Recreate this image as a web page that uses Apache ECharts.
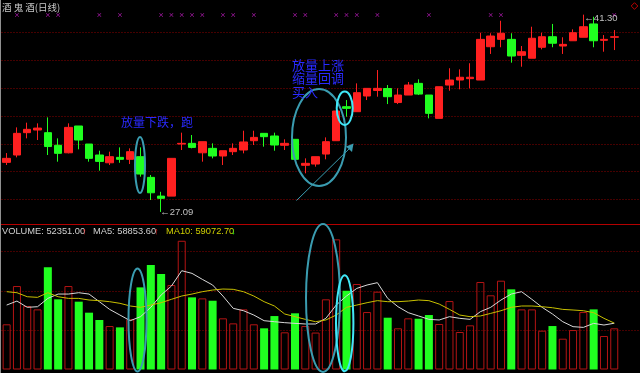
<!DOCTYPE html>
<html><head><meta charset="utf-8">
<script src="https://cdn.jsdelivr.net/npm/echarts@6/dist/echarts.min.js"></script>
<style>html,body{margin:0;padding:0;background:#000;}#c{width:640px;height:373px;}</style>
</head><body><div id="c"></div>
<script>
// ---- data ----
const days = [];
for (let i = 1; i <= 62; i++) days.push('D' + i);   // 60 trading days + 2 blank slots on the right
const opens  = [30.66,31.19,32.80,32.99,32.80,31.89,31.35,33.28,31.98,31.19,30.63,31.02,30.88,31.07,29.58,28.23,28.23,31.98,32.03,31.35,31.67,31.12,31.43,31.55,32.22,32.75,32.56,31.89,32.32,30.45,30.54,31.26,32.22,34.67,34.31,35.44,35.84,35.98,34.97,35.51,36.35,35.51,33.83,36.23,36.59,36.69,36.59,38.99,39.52,39.52,38.37,38.16,38.95,39.71,39.04,39.42,39.67,40.63,39.45,39.67];
const closes = [30.95,32.75,33.04,33.13,31.80,31.31,33.18,32.27,30.95,30.73,31.07,30.88,31.43,29.82,28.47,28.07,30.95,32.03,31.74,32.15,31.12,31.50,31.67,32.13,32.46,32.51,31.91,32.03,30.88,30.59,31.07,32.15,34.36,34.55,35.68,35.99,35.99,35.39,35.51,36.23,35.58,34.19,36.11,36.59,36.79,36.79,39.52,39.76,39.96,38.32,38.63,39.60,39.71,39.24,39.16,40.00,40.43,39.42,39.52,39.71];
const lows   = [30.47,31.02,32.39,32.27,31.19,30.71,31.31,31.60,30.71,30.06,30.47,30.63,30.54,29.63,27.95,27.09,28.23,31.55,31.67,30.71,30.95,30.47,31.19,31.31,31.91,31.79,31.50,31.55,30.88,29.87,30.35,30.88,32.22,33.95,34.31,35.15,35.39,34.86,34.86,35.51,35.51,33.83,33.83,35.82,35.92,35.99,36.59,38.47,38.95,37.84,37.55,38.16,38.80,38.95,38.47,39.42,39.67,38.95,38.63,38.75];
const highs  = [31.33,33.18,33.52,33.47,33.90,32.39,33.47,33.28,31.98,31.50,31.43,31.74,31.67,31.74,29.75,28.54,30.95,32.80,32.63,32.15,32.03,31.50,32.03,32.94,32.94,32.75,32.80,32.32,32.32,30.95,31.07,32.46,34.36,35.15,36.35,35.99,37.31,36.23,35.99,36.45,36.64,35.51,36.11,37.44,37.36,37.80,40.00,39.96,40.86,39.96,39.04,40.43,40.00,40.63,39.67,40.24,41.30,41.15,39.83,40.19];
const volumes = [57500,106200,80800,76500,130000,89300,106200,86300,72300,63000,55300,53600,64000,104500,132900,121500,107500,163800,91800,90500,87500,65100,58700,76500,57500,52400,68000,47300,71500,55300,47000,89300,165600,100200,108800,73100,99000,65900,52400,65100,64600,69300,57900,87100,47700,56200,111300,94400,113000,102000,76500,76500,49400,55300,39200,50200,73100,76500,42600,52351];
const ma5  = [82000,87100,79100,79900,90500,96000,96000,97700,96000,86300,76500,69300,62100,67200,79100,94800,106200,125700,122300,114700,107500,93500,77800,74800,69300,62100,60800,59600,58700,57900,57900,65100,82000,93500,103200,107500,110500,90500,79900,72300,68100,63800,63000,67200,65100,63800,73600,79100,88400,96000,99000,89300,79100,70600,60800,54500,53600,58700,56600,58853.6];
const ma10 = [99000,97700,92600,91800,97700,92600,90500,90500,88400,87600,86300,84200,80800,79100,82000,85000,89300,93500,96000,99000,101100,102400,102000,99000,93500,86300,80800,70600,67200,63800,60800,63000,69300,79100,82000,85000,87600,86300,86300,87100,88400,87600,83300,76500,69300,67200,68100,71400,74800,79100,80800,80800,79900,78600,76500,75700,74800,72300,65100,59072.7];
const signalDays = [1,4,5,9,11,15,16,17,18,19,21,22,24,28,29,32,33,34,36,41,47,48,59];
const signalLevel = 41.28;
const priceTicks = {min: 26, max: 42, step: 2};
const volTicks = {min: 0, max: 184500, step: 50000};
const lastVol = '52351.00', lastMA5 = '58853.60', lastMA10 = '59072.70';

// ---- build ----
const UP = '#ff2020', DOWN = '#20ff20', VOLUP = '#b41414';
const kData = opens.map((o, i) => [o, closes[i], lows[i], highs[i]]);
const volData = volumes.map((v, i) => {
  const up = closes[i] >= opens[i];
  return {value: v, itemStyle: up ? {color: 'rgba(0,0,0,0)', borderColor: VOLUP, borderWidth: 1} : {color: DOWN, borderWidth: 0}};
});
const grid0 = {left: 1.5, right: 0, top: 4.93, height: 222.14};
const grid1 = {left: 1.5, right: 0, top: 224.5, height: 145};
const split = {show: true, showMinLine: false, showMaxLine: false, lineStyle: {color: '#8c0000', type: [1, 2], width: 1}};
const hidden = {axisLine: {show: false}, axisTick: {show: false}, axisLabel: {show: false}};

const chart = echarts.init(document.getElementById('c'), null, {renderer: 'canvas'});
chart.setOption({
  backgroundColor: '#000',
  animation: false,
  grid: [grid0, grid1],
  xAxis: [
    Object.assign({type: 'category', data: days, gridIndex: 0, boundaryGap: true, splitLine: {show: false}}, hidden),
    Object.assign({type: 'category', data: days, gridIndex: 1, boundaryGap: true, splitLine: {show: false}}, hidden)
  ],
  yAxis: [
    Object.assign({type: 'value', gridIndex: 0, min: priceTicks.min, max: priceTicks.max, interval: priceTicks.step, splitLine: split}, hidden),
    Object.assign({type: 'value', gridIndex: 1, min: volTicks.min, max: volTicks.max, interval: volTicks.step, splitLine: split}, hidden)
  ],
  series: [
    {type: 'candlestick', xAxisIndex: 0, yAxisIndex: 0, data: kData, barWidth: 8,
     itemStyle: {color: UP, color0: DOWN, borderColor: UP, borderColor0: DOWN, borderWidth: 1}},
    {type: 'scatter', xAxisIndex: 0, yAxisIndex: 0, data: signalDays.map(d => [d, signalLevel]),
     symbol: 'path://M0,1L1,0L5,4L9,0L10,1L6,5L10,9L9,10L5,6L1,10L0,9L4,5Z', symbolSize: 4,
     itemStyle: {color: '#e020e0'}},
    {type: 'bar', xAxisIndex: 1, yAxisIndex: 1, data: volData, barWidth: 8},
    {type: 'line', xAxisIndex: 1, yAxisIndex: 1, data: ma5, showSymbol: false, symbol: 'none',
     lineStyle: {color: '#d8d8d8', width: 1}},
    {type: 'line', xAxisIndex: 1, yAxisIndex: 1, data: ma10, showSymbol: false, symbol: 'none',
     lineStyle: {color: '#c8c000', width: 1}}
  ]
});

// label positions from the data
let lowIdx = 0, highIdx = 0;
lows.forEach((v, i) => { if (v < lows[lowIdx]) lowIdx = i; });
highs.forEach((v, i) => { if (v > highs[highIdx]) highIdx = i; });
const pLow = chart.convertToPixel({xAxisIndex: 0, yAxisIndex: 0}, [lowIdx, lows[lowIdx]]);
const pHigh = chart.convertToPixel({xAxisIndex: 0, yAxisIndex: 0}, [highIdx, highs[highIdx]]);

const LAT = 'Arial, "Liberation Sans", sans-serif';
const CJK = '"Noto Sans CJK SC", sans-serif';
const TEAL = '#3a9cb0', CYAN = '#40e8f8', BLUE = '#2a2aff';
function txt(text, x, y, fill, font, align) {
  return {type: 'text', silent: true, z: 100, style: {text, x, y, fill, font, textAlign: align || 'left', textVerticalAlign: 'middle'}};
}
function ell(cx, cy, rx, ry, stroke, w) {
  return {type: 'ellipse', silent: true, z: 90, shape: {cx, cy, rx, ry}, style: {fill: 'none', stroke, lineWidth: w}};
}
chart.setOption({
  graphic: [
    {type: 'line', z: 80, shape: {x1: 0, y1: 224.5, x2: 640, y2: 224.5}, style: {stroke: '#b40000', lineWidth: 1}},
    {type: 'line', z: 80, shape: {x1: 0.5, y1: 0, x2: 0.5, y2: 373}, style: {stroke: '#909090', lineWidth: 1}},
    txt('酒 鬼 酒(日线)', 2, 7, '#c8c8c8', '9.5px ' + CJK),
    txt('VOLUME: ' + lastVol, 2, 231, '#d0d0d0', '9.3px ' + LAT),
    txt('↑', 82, 231, '#ff2020', '9.3px ' + LAT),
    txt('MA5: ' + lastMA5, 93, 231, '#d0d0d0', '9.3px ' + LAT),
    txt('↑', 154, 231, '#ff2020', '9.3px ' + LAT),
    txt('MA10: ' + lastMA10, 166, 231, '#d0d000', '9.3px ' + LAT),
    txt('↓', 231, 231, '#20ff20', '9.3px ' + LAT),
    txt('←' + lows[lowIdx].toFixed(2), pLow[0] - 1, pLow[1], '#c0c0c0', '9.5px ' + LAT),
    txt('←' + highs[highIdx].toFixed(2), pHigh[0] + 1, pHigh[1] + 4, '#c0c0c0', '9.5px ' + LAT),
    txt('放量下跌，跑', 121, 122, BLUE, '12px ' + CJK),
    txt('放量上涨', 292, 65, BLUE, '13px ' + CJK),
    txt('缩量回调', 292, 78.5, BLUE, '13px ' + CJK),
    txt('买入', 292, 92, BLUE, '13px ' + CJK),
    {type: 'polygon', silent: true, z: 90, shape: {points: [[634.5, 2.7], [637.8, 6], [634.5, 9.3], [631.2, 6]]}, style: {fill: 'none', stroke: '#c00000', lineWidth: 1}},
    ell(140, 165, 5, 28, TEAL, 2),
    ell(319, 137.5, 27, 48.5, TEAL, 2),
    ell(344.7, 108.3, 8, 16.7, CYAN, 2),
    {type: 'line', silent: true, z: 90, shape: {x1: 296.5, y1: 200.5, x2: 350, y2: 148}, style: {stroke: TEAL, lineWidth: 1}},
    {type: 'polygon', silent: true, z: 90, shape: {points: [[353.5, 143.5], [352, 152], [346, 146.5]]}, style: {fill: TEAL}},
    ell(137.5, 320, 9, 51.5, TEAL, 2),
    ell(323, 298, 17, 74, TEAL, 2),
    ell(344.7, 323.3, 8.7, 48, CYAN, 2)
  ]
});
</script></body></html>
